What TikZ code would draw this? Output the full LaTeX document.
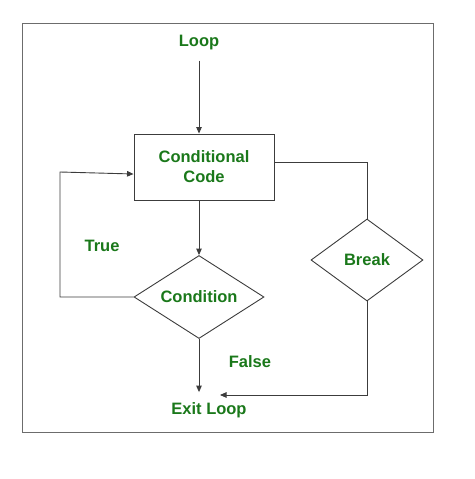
\documentclass[tikz,border=0pt]{standalone}
\usepackage{fontspec}
\setmainfont{Liberation Sans}
\usetikzlibrary{shapes.geometric,arrows.meta}
\definecolor{txtgreen}{RGB}{26,120,26}
\definecolor{linegray}{RGB}{60,60,60}
\tikzset{
  txt/.style={font=\bfseries\fontsize{16.5}{20}\selectfont,text=txtgreen,inner sep=0pt,align=center},
  box/.style={txt,draw=linegray,line width=0.9pt,minimum width=140pt,minimum height=66pt},
  dia/.style={txt,diamond,draw=linegray,line width=0.9pt},
  link/.style={draw=linegray,line width=0.9pt},
  arr/.style={link,-{Triangle[length=6.5pt,width=5.5pt]}}
}
\begin{document}
\begin{tikzpicture}[x=1pt,y=-1pt]
    \useasboundingbox (0,0) rectangle (474,479);
    \draw[draw=gray!85!black,line width=0.9pt] (22.5,23) rectangle (433,432);
    \node[txt,inner ysep=10pt] (loop) at (199,43) {Loop};
    \node[box] (code) at (204,167) {Conditional\\Code};
    \node[dia,aspect=1.566,minimum width=130pt,minimum height=83pt] (cond) at (199,297) {Condition};
    \node[dia,aspect=1.366,minimum width=112pt,minimum height=82pt] (brk) at (367,260) {Break};
    \node[txt,inner ysep=10pt] (exit) at (209,410) {Exit Loop};
    \node[txt] (true) at (102,246) {True};
    \node[txt] (false) at (250,362) {False};
    \coordinate (back) at (60,172);
    \coordinate (brkin) at (220,395);
    \draw[arr] (loop.south) -- (code.north -| loop.south);
    \draw[arr] (code.south -| cond.north) -- (cond.north);
    \draw[arr] (cond.west) -| (back) -- (code.west |- 0,174);
    \draw[arr] (cond.south) -- (cond.south |- exit.north);
    \draw[link] (code.east |- 0,162) -| (brk.north);
    \draw[arr] (brk.south) |- (brkin);
\end{tikzpicture}
\end{document}
